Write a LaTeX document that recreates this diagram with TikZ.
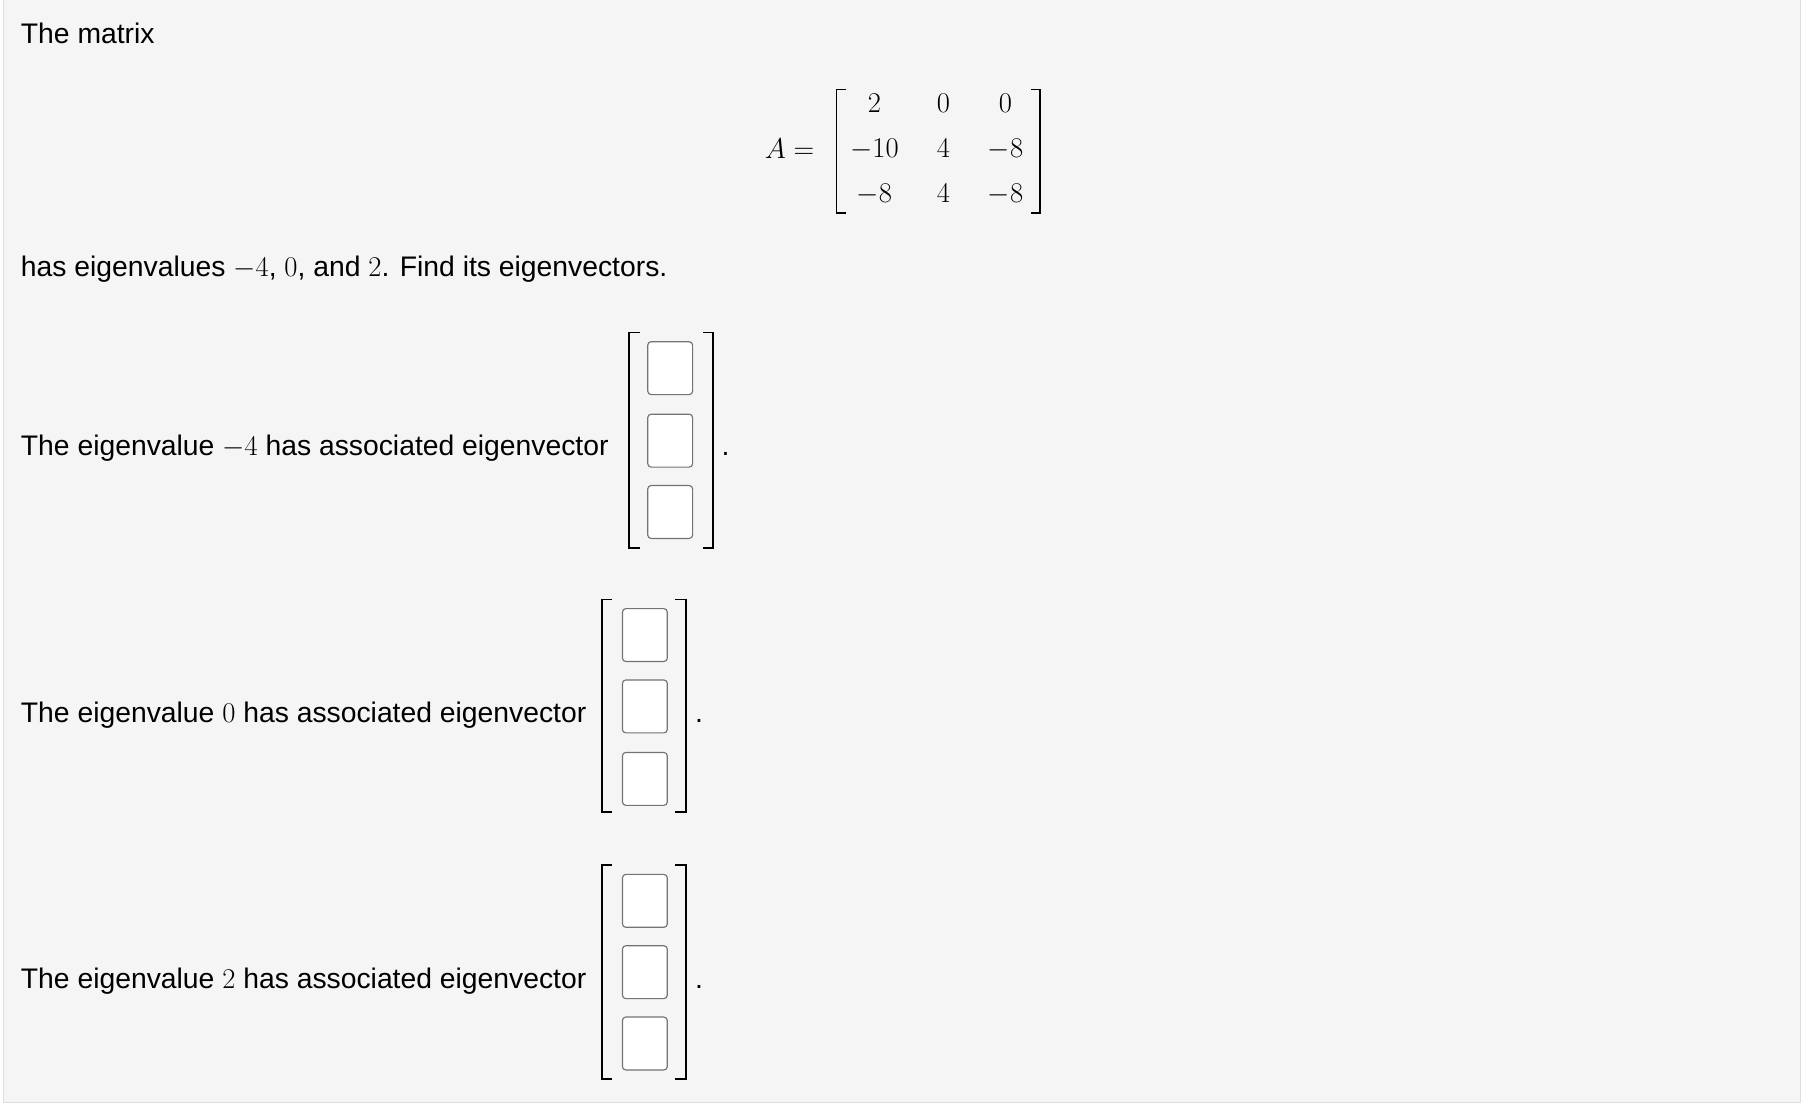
\documentclass[tikz,border=0pt]{standalone}
\usepackage{fontspec}
\setmainfont{Liberation Sans}
\begin{document}
\begin{tikzpicture}[x=1pt,y=-1pt,
  txt/.style={anchor=base west,inner sep=0pt,font=\fontsize{24.6}{28}\selectfont},
  mth/.style={anchor=base,inner sep=0pt,font=\fontsize{25.5}{29}\selectfont},
  ibox/.style={draw=black!55,fill=white,rounded corners=3pt,line width=1pt},
  brk/.style={line width=1.6pt}]
\useasboundingbox (0,0) rectangle (1568,963);
\fill[white] (0,0) rectangle (1568,963);
\draw[fill=black!4,draw=black!13] (3,-2) rectangle (1565,958);
\node[txt] (t1) at (18,38) {The matrix};
\node[mth,anchor=base east] (aeq) at (708,138) {$A=$};
\node[mth] (m11) at (760,98) {$2$};
\node[mth] (m12) at (820,98) {$0$};
\node[mth] (m13) at (874,98) {$0$};
\node[mth] (m21) at (760,137) {$-10$};
\node[mth] (m22) at (820,137) {$4$};
\node[mth] (m23) at (874,137) {$-8$};
\node[mth] (m31) at (760,176) {$-8$};
\node[mth] (m32) at (820,176) {$4$};
\node[mth] (m33) at (874,176) {$-8$};
\draw[line width=1.2pt] (735,78)--(727,78)--(727,185)--(735,185);
\draw[line width=1.2pt] (896,78)--(904,78)--(904,185)--(896,185);
\node[txt] (t2) at (18,240) {has eigenvalues $-4$, $0$, and $2$. Find its eigenvectors.};
\node[txt] (l1) at (18,396) {The eigenvalue $-4$ has associated eigenvector};
\draw[brk] (556,289)--(547,289)--(547,476)--(556,476);
\draw[brk] (611,289)--(620,289)--(620,476)--(611,476);
\foreach \y in {297,360,422}{\draw[ibox] (563,\y) rectangle (602,\y+46);}
\node[txt] (p1) at (627,396) {.};
\node[txt] (l2) at (18,628) {The eigenvalue $0$ has associated eigenvector};
\draw[brk] (532,521)--(523,521)--(523,706)--(532,706);
\draw[brk] (587,521)--(596,521)--(596,706)--(587,706);
\foreach \y in {529,591,654}{\draw[ibox] (541,\y) rectangle (580,\y+46);}
\node[txt] (p2) at (604,628) {.};
\node[txt] (l3) at (18,859) {The eigenvalue $2$ has associated eigenvector};
\draw[brk] (532,752)--(523,752)--(523,938)--(532,938);
\draw[brk] (587,752)--(596,752)--(596,938)--(587,938);
\foreach \y in {760,822,884}{\draw[ibox] (541,\y) rectangle (580,\y+46);}
\node[txt] (p3) at (604,859) {.};
\end{tikzpicture}
\end{document}
